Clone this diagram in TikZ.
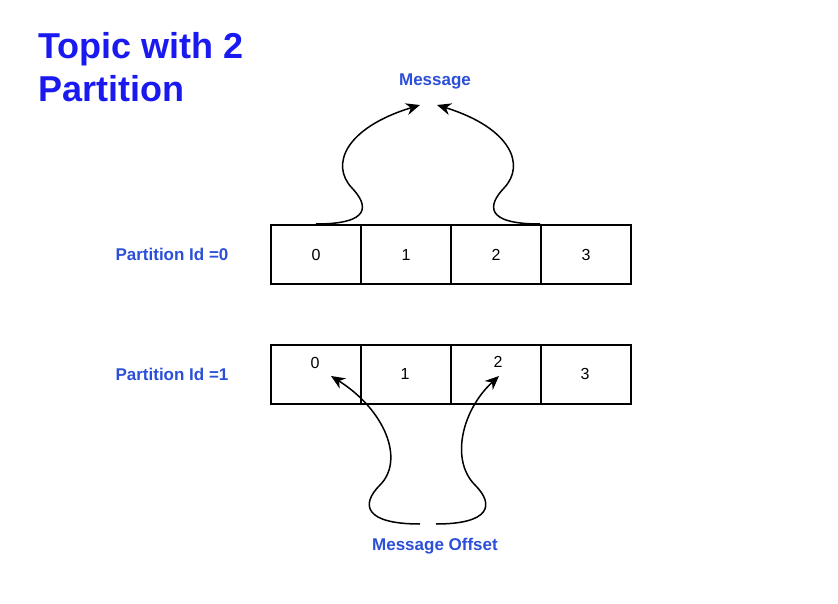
\documentclass[tikz,border=0pt]{standalone}
\usepackage{fontspec}
\setmainfont{Liberation Sans}
\usetikzlibrary{arrows.meta}
\definecolor{tblue}{HTML}{1A1AF0}
\definecolor{lblue}{HTML}{2B4FD8}
\begin{document}
\begin{tikzpicture}[x=1pt,y=-1pt,
 num/.style={font=\fontsize{16}{18}\selectfont},
 cell/.style={draw,line width=1.1pt,minimum width=90pt,minimum height=59pt,inner sep=0pt,num},
 lab/.style={text=lblue,font=\bfseries\fontsize{17}{20}\selectfont},
 arr/.style={line width=1.5pt,-{Stealth[length=14pt,width=12pt]}}]
\useasboundingbox (0,0) rectangle (838,604);
\node[anchor=north west,align=left,text=tblue,font=\bfseries\fontsize{36}{43}\selectfont,inner sep=0pt] (title) at (38,32) {Topic with 2\\Partition};
\node[lab] (msg) at (435,81) {Message};
\node[lab] (off) at (435,546) {Message Offset};
\node[lab] (p0) at (172,254) {Partition Id =0};
\node[lab] (p1) at (172,374) {Partition Id =1};
\foreach \i in {0,1,2,3}{
 \node[cell] (a\i) at (316+90*\i,254.5) {\i};
 \node[cell] (b\i) at (316+90*\i,374.5) {};
}
\node[num] (n0) at (315,363) {0};
\node[num] (n1) at (405,374) {1};
\node[num] (n2) at (498,362) {2};
\node[num] (n3) at (585,374) {3};
\coordinate (t1) at (420,105);
\coordinate (t2) at (437,105);
\coordinate (s1) at (316,224);
\coordinate (s2) at (540,224);
\draw[arr] (s1) .. controls (372,224) and (368,205) .. (352,188) .. controls (330,165) and (345,128) .. (t1);
\draw[arr] (s2) .. controls (484,224) and (488,205) .. (504,188) .. controls (526,165) and (511,128) .. (t2);
\coordinate (u1) at (420,524);
\coordinate (u2) at (436,524);
\draw[arr] (u1) .. controls (365,524) and (360,505) .. (380,485) .. controls (405,460) and (385,410) .. (331,376);
\draw[arr] (u2) .. controls (490,524) and (495,505) .. (475,485) .. controls (450,460) and (462,410) .. (499,376);
\end{tikzpicture}
\end{document}
